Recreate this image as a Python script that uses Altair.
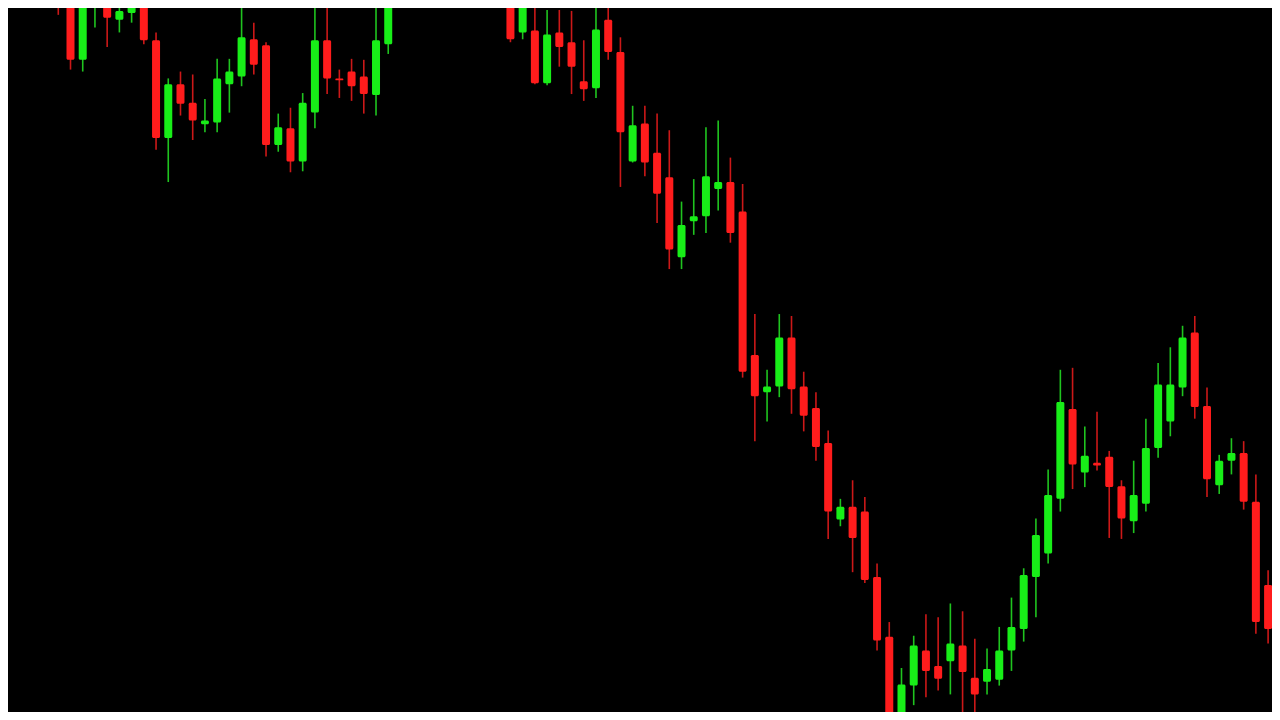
import altair as alt
import pandas as pd

# Candlestick prices (index = bar number)
open_ = [173.5, 176.0, 172.8, 176.0, 174.0, 166.7, 172.5, 172.8, 170.8, 171.5,
         172.5, 168.7, 158.7, 164.2, 162.3, 160.1, 160.3, 164.2, 165.0, 168.8,
         168.2, 158.0, 159.7, 156.3, 161.3, 168.7, 164.8, 165.5, 165.0, 163.1,
         168.3, 174.0, 177.5, 176.0, 181.0, 184.0, 181.5, 179.0, 182.0, 177.0,
         174.0, 169.5, 169.7, 164.3, 169.5, 168.5, 164.5, 163.8, 170.8, 167.5,
         156.3, 160.2, 157.2, 154.7, 146.5, 150.2, 150.7, 153.5, 154.2, 151.2,
         136.5, 132.7, 133.3, 138.3, 133.3, 131.1, 127.5, 119.7, 121.0, 120.5,
         113.8, 107.7, 97.5, 102.7, 106.3, 104.7, 105.2, 106.8, 103.5, 103.1,
         103.3, 106.3, 108.5, 113.8, 116.2, 121.8, 131.0, 124.5, 125.5, 126.1,
         123.1, 119.5, 121.3, 127.0, 129.7, 133.2, 138.8, 131.3, 123.2, 125.7,
         126.5, 121.5, 113.0]
close = [176.5, 173.0, 175.0, 173.0, 166.7, 173.0, 175.0, 171.0, 171.7, 172.8,
         168.7, 158.7, 164.2, 162.2, 160.5, 160.5, 164.8, 165.5, 169.0, 166.2,
         158.0, 159.8, 156.3, 162.3, 168.7, 164.8, 164.6, 164.0, 163.2, 168.7,
         174.0, 177.5, 176.0, 181.0, 184.0, 181.5, 179.0, 182.0, 177.0, 174.5,
         168.8, 173.0, 164.3, 169.3, 168.0, 166.0, 163.7, 169.8, 167.5, 159.3,
         160.0, 156.2, 153.0, 147.3, 149.8, 150.7, 154.8, 154.2, 149.0, 134.8,
         132.3, 133.3, 138.3, 133.0, 130.3, 127.1, 120.5, 121.0, 117.8, 113.5,
         107.3, 98.0, 102.8, 106.8, 104.2, 103.4, 107.0, 104.1, 101.8, 104.4,
         106.3, 108.7, 114.0, 118.1, 122.2, 131.7, 125.3, 126.2, 125.2, 123.0,
         119.8, 122.2, 127.0, 133.5, 133.5, 138.3, 131.2, 123.8, 125.7, 126.5,
         121.5, 109.2, 108.5]
high = [178.0, 177.0, 176.5, 178.0, 175.0, 174.0, 176.0, 173.5, 172.3, 173.5,
        173.5, 169.5, 164.8, 165.5, 165.2, 162.7, 166.8, 166.8, 172.5, 170.5,
        168.5, 161.2, 161.8, 163.3, 172.5, 172.5, 165.7, 166.8, 166.7, 172.5,
        175.0, 178.5, 179.0, 182.0, 185.5, 185.0, 183.0, 183.5, 182.5, 178.0,
        175.0, 174.0, 172.5, 171.8, 171.8, 171.7, 168.7, 172.5, 172.5, 169.0,
        162.0, 162.0, 161.2, 159.5, 152.2, 154.5, 159.8, 160.5, 156.7, 154.0,
        140.7, 135.0, 140.7, 140.5, 134.8, 132.7, 128.8, 121.8, 123.7, 122.0,
        115.2, 109.2, 104.5, 107.8, 110.0, 109.7, 111.1, 110.3, 107.5, 106.5,
        108.7, 111.7, 114.7, 119.8, 124.8, 135.0, 135.2, 129.2, 130.7, 126.7,
        123.7, 125.7, 130.0, 135.7, 137.3, 139.5, 140.5, 133.2, 126.3, 128.0,
        127.7, 124.3, 114.5]
low = [172.5, 172.3, 172.2, 171.3, 165.7, 165.5, 170.0, 168.0, 169.5, 170.5,
       168.3, 157.5, 154.2, 161.0, 158.5, 159.3, 159.3, 161.3, 164.0, 165.2,
       156.8, 157.3, 155.2, 155.3, 159.7, 163.2, 162.8, 162.5, 161.2, 161.0,
       167.3, 173.2, 175.0, 175.5, 180.0, 180.5, 178.0, 178.2, 176.0, 172.8,
       168.5, 168.8, 164.2, 164.1, 166.0, 163.2, 162.5, 162.8, 166.7, 153.7,
       156.2, 154.8, 150.0, 145.3, 145.3, 148.8, 149.0, 151.3, 148.0, 134.2,
       127.7, 129.7, 132.2, 130.5, 128.7, 125.7, 117.7, 119.0, 114.3, 113.2,
       106.3, 97.0, 96.5, 100.7, 101.5, 102.2, 101.8, 99.5, 99.5, 101.8,
       102.7, 104.2, 107.2, 109.7, 115.2, 120.5, 122.8, 123.0, 124.7, 117.8,
       117.7, 118.3, 120.5, 126.0, 128.2, 132.3, 130.0, 122.0, 122.3, 124.3,
       120.7, 108.0, 107.0]

bar = list(range(len(open_)))
direction = ["up" if c >= o else "down" for o, c in zip(open_, close)]

df = pd.DataFrame({"bar": bar, "open": open_, "close": close,
                   "high": high, "low": low, "dir": direction})

x_scale = alt.Scale(domain=[-0.7055, 101.91], nice=False, zero=False)
y_scale = alt.Scale(domain=[100, 172], nice=False, zero=False)

base = alt.Chart(df).encode(
    x=alt.X("bar:Q", scale=x_scale, axis=None),
)

wicks = base.mark_rule(strokeWidth=1.6, clip=True).encode(
    y=alt.Y("low:Q", scale=y_scale, axis=None),
    y2="high:Q",
    color=alt.Color("dir:N", legend=None,
                    scale=alt.Scale(domain=["up", "down"], range=["#1fc41f", "#cc1818"])),
)

bodies = base.mark_bar(size=8, cornerRadius=1.5, clip=True).encode(
    y=alt.Y("open:Q", scale=y_scale, axis=None),
    y2="close:Q",
    color=alt.Color("dir:N", legend=None,
                    scale=alt.Scale(domain=["up", "down"], range=["#18ee18", "#ff1c1c"])),
)

chart = alt.layer(wicks, bodies).resolve_scale(color="independent").properties(
    width=1264, height=704, padding=0, background="#000000"
).configure_view(stroke=None, fill="#000000")

chart.save("out.html", embed_options={"renderer": "svg", "actions": False})
